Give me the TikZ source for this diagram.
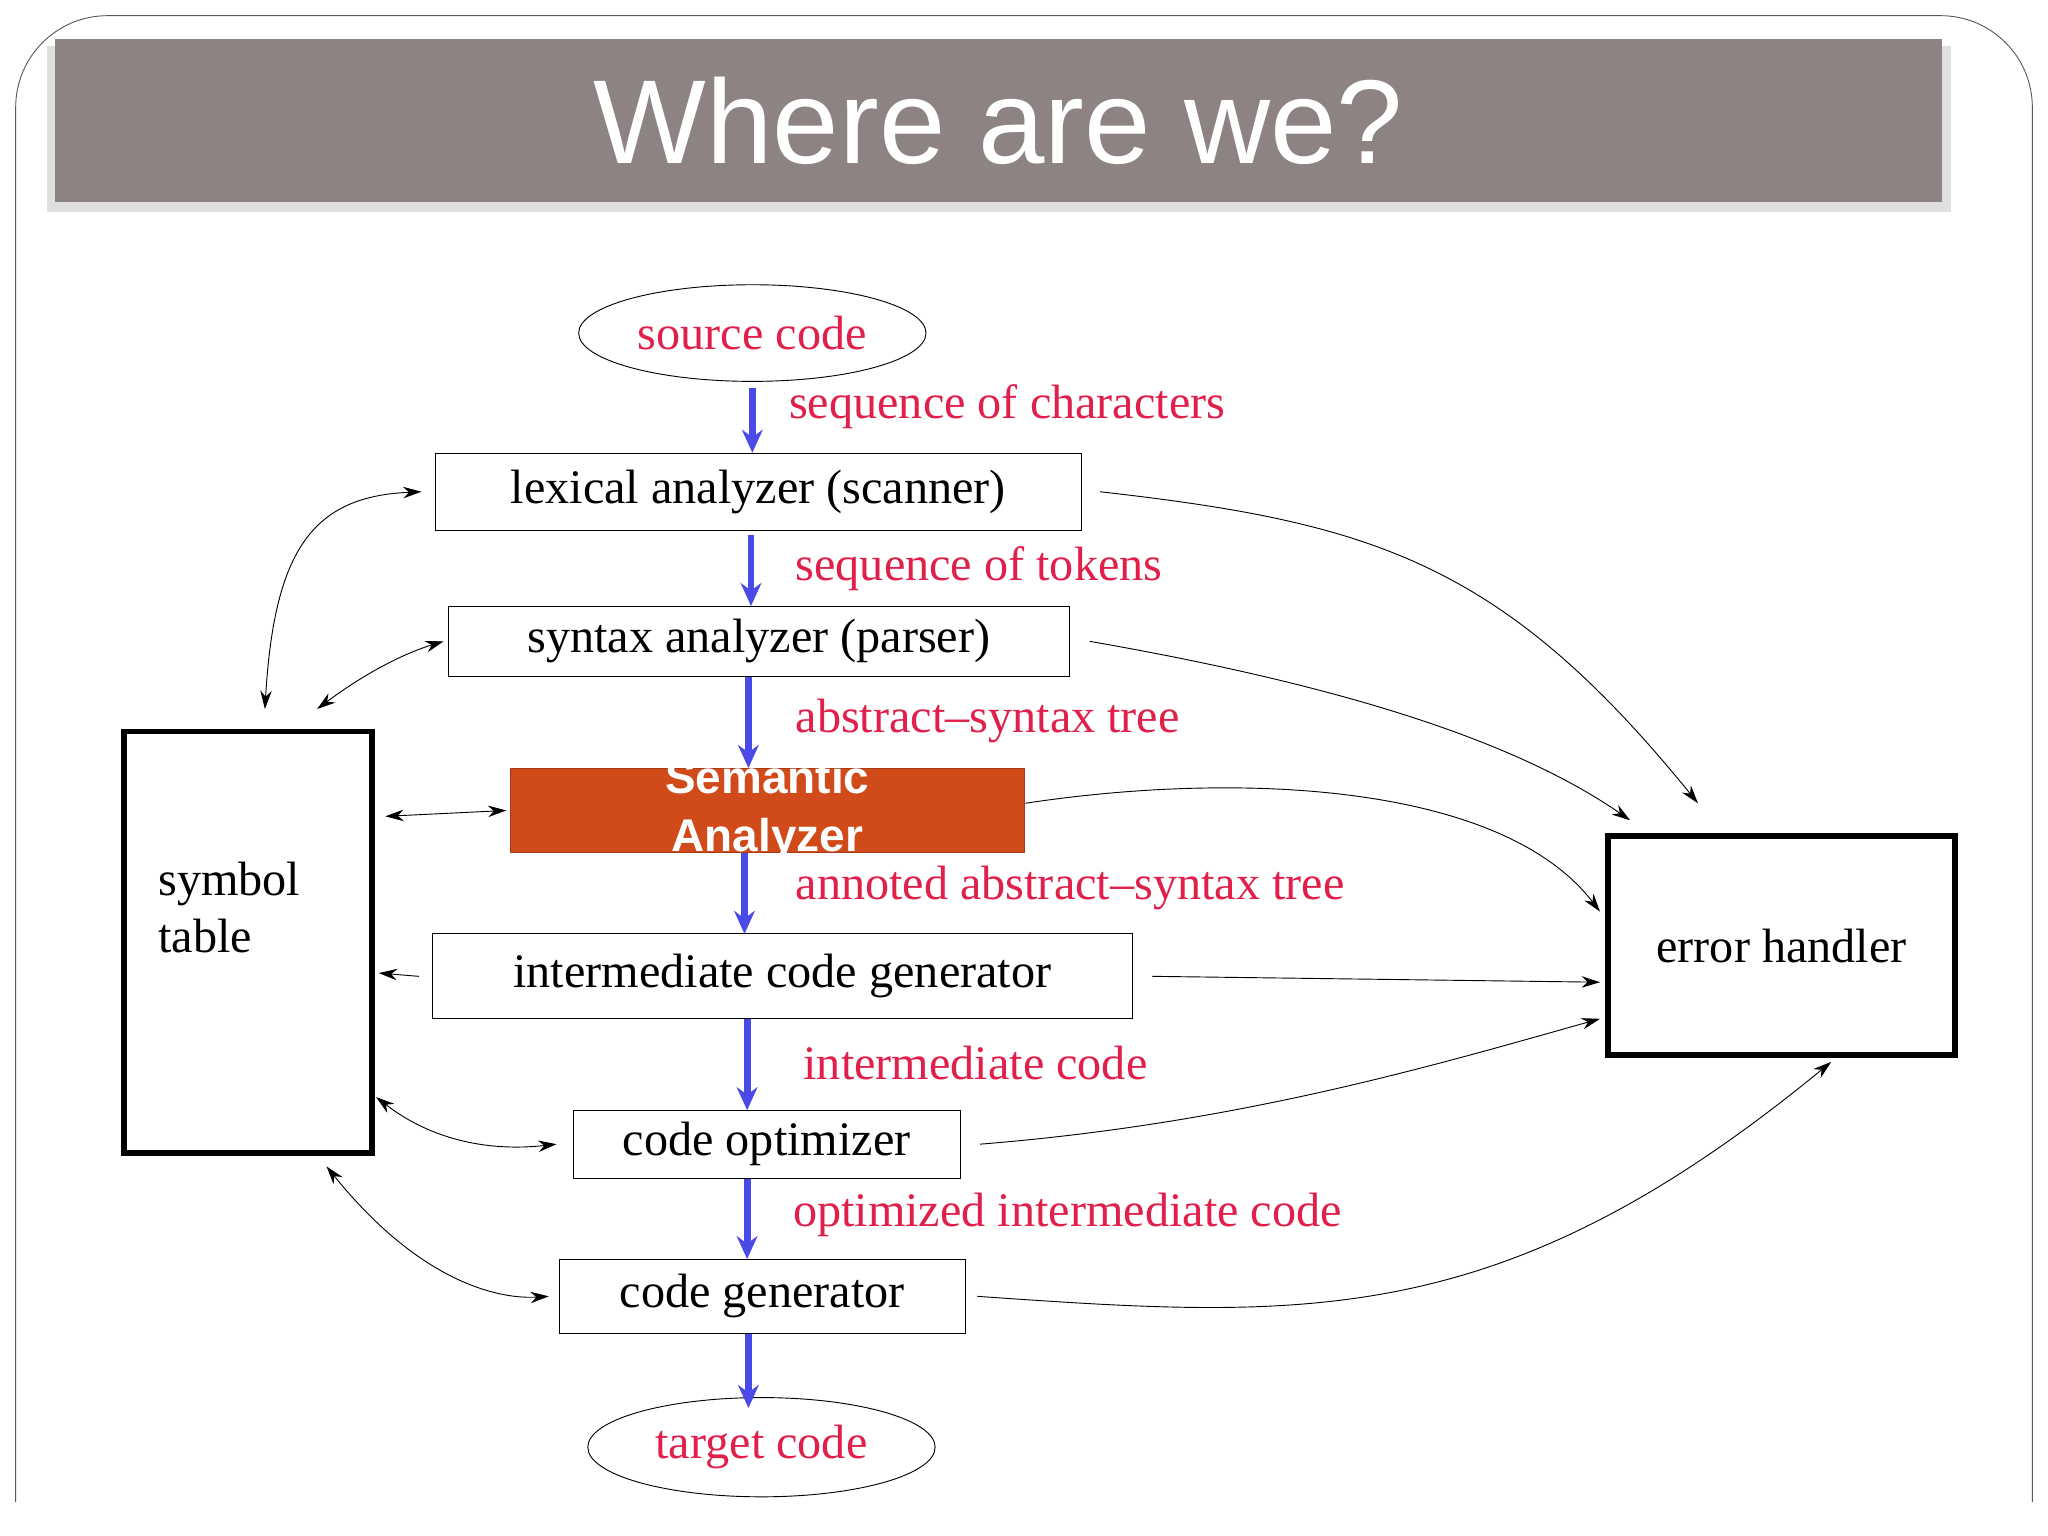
\documentclass[tikz,border=0pt]{standalone}
\usepackage{fontspec}
\setmainfont{Liberation Serif}
\newfontfamily\sans{Liberation Sans}
\usetikzlibrary{shapes.geometric,arrows.meta}
\definecolor{lab}{HTML}{E0204A}
\definecolor{tbar}{HTML}{8E8383}
\definecolor{sem}{HTML}{D04A1A}
\definecolor{flow}{HTML}{4A4AE8}
\begin{document}
\begin{tikzpicture}[x=0.02cm,y=-0.02cm,
  box/.style={draw,thin,inner sep=0,font=\fontsize{21}{24}\selectfont},
  thickbox/.style={draw,line width=2.5pt,inner sep=0,font=\fontsize{21}{25}\selectfont},
  lbl/.style={anchor=west,text=lab,font=\fontsize{21}{24}\selectfont},
  flowarr/.style={draw=flow,line width=3pt,-{Stealth[length=10pt,width=9pt]}},
  conn/.style={thin,-{Stealth[length=8pt,width=5pt]}},
  bconn/.style={thin,{Stealth[length=8pt,width=5pt]}-{Stealth[length=8pt,width=5pt]}}]
\useasboundingbox (0,0) rectangle (1568,1176);
\fill[white] (0,0) rectangle (1568,1176);
\draw[gray!70!black,thin,rounded corners=40pt] (12,1150) -- (12,12) -- (1556,12) -- (1556,1150);
\fill[gray!25] (36,35) rectangle (1494,162);
\node[fill=tbar,minimum width=28.9cm,minimum height=2.5cm,inner sep=0,text=white,font=\sans\fontsize{52}{60}\selectfont] (title) at (764.5,92.5) {Where are we?};
\node[ellipse,draw,thin,minimum width=5.32cm,minimum height=1.48cm,inner sep=0,text=lab,font=\fontsize{21}{24}\selectfont] (src) at (576,255) {source code};
\node[box,minimum width=9.9cm,minimum height=1.18cm] (lex) at (580.5,376.5) {lexical analyzer (scanner)};
\node[box,minimum width=9.52cm,minimum height=1.08cm] (syn) at (581,491) {syntax analyzer (parser)};
\node[draw=sem!80!black,fill=sem,minimum width=7.86cm,minimum height=1.3cm,inner sep=0] (sem) at (587.5,620.5) {};
\node[text=white,font=\sans\bfseries\fontsize{20}{25}\selectfont,align=center] (semt) at (587.5,620.5) {Semantic\\Analyzer};
\node[box,minimum width=10.72cm,minimum height=1.3cm] (icg) at (599,747.5) {intermediate code generator};
\node[box,minimum width=5.92cm,minimum height=1.04cm] (opt) at (587,876) {code optimizer};
\node[box,minimum width=6.22cm,minimum height=1.14cm] (gen) at (583.5,992.5) {code generator};
\node[ellipse,draw,thin,minimum width=5.32cm,minimum height=1.52cm,inner sep=0,text=lab,font=\fontsize{21}{24}\selectfont] (tgt) at (583,1108) {target code};
\node[thickbox,minimum width=3.8cm,minimum height=6.46cm] (sym) at (190,721.5) {};
\node[font=\fontsize{21}{25}\selectfont,anchor=west,align=left] (symt) at (115,695) {symbol\\table};
\node[thickbox,minimum width=5.32cm,minimum height=3.36cm] (err) at (1364,724) {error handler};
\draw[flowarr] (src.south) ++(0,5) coordinate (a1) (a1) -- (a1 |- lex.north);
\draw[flowarr] ([yshift=-0.06cm]lex.south -| 575,0) -- (575,464);
\draw[flowarr] (syn.south -| 573,0) -- (573,588);
\draw[flowarr] (sem.south -| 570,0) -- (570,715);
\draw[flowarr] (icg.south -| 572,0) -- (572,850);
\draw[flowarr] (opt.south -| 572,0) -- (572,964);
\draw[flowarr] (gen.south -| 573,0) -- (573,1078);
\node[lbl] (l1) at (598,311) {sequence of characters};
\node[lbl] (l2) at (603,435) {sequence of tokens};
\node[lbl] (l3) at (603,552) {abstract--syntax tree};
\node[lbl] (l4) at (603,680) {annoted abstract--syntax tree};
\node[lbl] (l5) at (609,814) {intermediate code};
\node[lbl] (l6) at (601,930) {optimized intermediate code};
% symbol table links
\draw[bconn] ([shift={(110,-15)}]sym.north west) .. controls (210,420) and (240,380) .. ([xshift=-0.2cm]lex.west);
\draw[bconn] ([shift={(150,-15)}]sym.north west) .. controls (280,515) and (310,500) .. ([xshift=-0.06cm]syn.west);
\draw[bconn] (295,625) -- ([xshift=-0.06cm]sem.west);
\draw[conn] ([xshift=-0.2cm]icg.west) -- (290,745);
\draw[bconn] (288,840) .. controls (340,880) and (390,880) .. ([xshift=-0.25cm]opt.west);
\draw[bconn] (250,893) .. controls (320,980) and (380,995) .. ([xshift=-0.15cm]gen.west);
% error handler links
\draw[conn] ([xshift=0.28cm]lex.east) .. controls (1050,400) and (1150,430) .. (1300,615);
\draw[conn] ([xshift=0.3cm]syn.east) .. controls (1000,520) and (1150,560) .. (1248,628);
\draw[conn] (785,615) .. controls (950,590) and (1150,600) .. (1225,698);
\draw[conn] ([xshift=0.3cm]icg.east) -- (1225,752);
\draw[conn] ([xshift=0.3cm]opt.east) .. controls (950,860) and (1100,815) .. (1225,780);
\draw[conn] ([xshift=0.18cm]gen.east) .. controls (1000,1010) and (1150,1020) .. (1402,813);
\end{tikzpicture}
\end{document}
